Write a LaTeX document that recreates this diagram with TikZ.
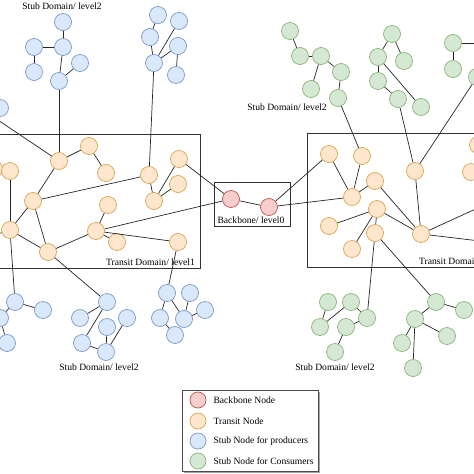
\documentclass[tikz,border=0pt]{standalone}
\usepackage{fontspec}
\setmainfont{Liberation Serif}
\usetikzlibrary{positioning}
\definecolor{bbfill}{HTML}{F8CECC}\definecolor{bbdraw}{HTML}{B85450}
\definecolor{tnfill}{HTML}{FFE6CC}\definecolor{tndraw}{HTML}{D6A653}
\definecolor{spfill}{HTML}{DAE8FC}\definecolor{spdraw}{HTML}{7A9AC8}
\definecolor{scfill}{HTML}{D5E8D4}\definecolor{scdraw}{HTML}{8AB576}

\begin{document}
\begin{tikzpicture}[x=1pt, y=-1pt, font=\fontsize{9.6}{11}\selectfont,
  nd/.style={circle, draw, line width=0.7pt, minimum size=17pt, inner sep=0pt},
  bb/.style={nd, fill=bbfill, draw=bbdraw},
  tn/.style={nd, fill=tnfill, draw=tndraw},
  sp/.style={nd, fill=spfill, draw=spdraw},
  sc/.style={nd, fill=scfill, draw=scdraw},
  lg/.style={minimum size=16pt},
  dom/.style={draw=black!80, line width=0.8pt},
  lbl/.style={inner sep=0pt},
  s/.style={draw=black!85, line width=0.7pt}]
\clip (0,0) rectangle (474,474);
% Domain boxes.
\draw[dom] (-5,134) rectangle (200,268);
\draw[dom] (214,182) rectangle (290,226);
\draw[dom] (307,133) rectangle (480,267);
\node[lbl] (lstub1) at (62,6) {Stub Domain/ level2};
\node[lbl] (lstub2) at (287,107) {Stub Domain/ level2};
\node[lbl] (lstub3) at (99,367) {Stub Domain/ level2};
\node[lbl] (lstub4) at (335,367) {Stub Domain/ level2};
\node[lbl, anchor=east] (ltr1) at (195,262) {Transit Domain/ level1};
\node[lbl, anchor=west] (ltr2) at (419,261) {Transit Domain/ level1};
\node[lbl] (lbb) at (251,220) {Backbone/ level0};
% Off-picture ends.
\coordinate (w1) at (-20,108); \coordinate (w2) at (-15,238);
\coordinate (w3) at (480,207); \coordinate (w4) at (480,241);
\coordinate (w5) at (480,43);
% Producers (top).
\node[sp] (b1) at (63,22) {}; \node[sp] (b2) at (63,47) {};
\node[sp] (b3) at (34,47) {}; \node[sp] (b4) at (34,72) {};
\node[sp] (b5) at (80,63) {}; \node[sp] (b6) at (59,81) {};
\node[sp] (b7) at (0,108) {};
\node[sp] (c1) at (158,15) {}; \node[sp] (c2) at (179,21) {};
\node[sp] (c3) at (150,37) {}; \node[sp] (c4) at (178,46) {};
\node[sp] (c5) at (154,63) {}; \node[sp] (c6) at (176,75) {};
% Transit domain (left).
\node[tn] (t0) at (-6,169) {}; \node[tn] (t1) at (59,161) {};
\node[tn] (t2) at (89,146) {}; \node[tn] (t3) at (106,173) {};
\node[tn] (t4) at (10,171) {}; \node[tn] (t5) at (33,201) {};
\node[tn] (t6) at (10,230) {}; \node[tn] (t7) at (48,252) {};
\node[tn] (t8) at (108,205) {}; \node[tn] (t9) at (96,231) {};
\node[tn] (t10) at (117,242) {}; \node[tn] (t11) at (149,175) {};
\node[tn] (t12) at (154,201) {}; \node[tn] (t13) at (179,159) {};
\node[tn] (t14) at (178,184) {}; \node[tn] (t15) at (178,242) {};
% Backbone.
\node[bb] (bb1) at (231,199) {}; \node[bb] (bb2) at (269,207) {};
% Transit domain (right).
\node[tn] (r1) at (329,154) {}; \node[tn] (r2) at (362,156) {};
\node[tn] (r3) at (375,181) {}; \node[tn] (r4) at (415,171) {};
\node[tn] (r5) at (352,197) {}; \node[tn] (r6) at (377,209) {};
\node[tn] (r7) at (329,226) {}; \node[tn] (r8) at (375,233) {};
\node[tn] (r9) at (352,249) {}; \node[tn] (r10) at (421,234) {};
\node[tn] (r11) at (478,145) {}; \node[tn] (r12) at (471,172) {};
% Consumers (top).
\node[sc] (ga1) at (290,31) {}; \node[sc] (ga2) at (300,56) {};
\node[sc] (ga3) at (321,56) {}; \node[sc] (ga4) at (341,72) {};
\node[sc] (ga5) at (311,89) {}; \node[sc] (ga6) at (338,98) {};
\node[sc] (gb1) at (392,34) {}; \node[sc] (gb2) at (378,57) {};
\node[sc] (gb3) at (404,61) {}; \node[sc] (gb4) at (378,81) {};
\node[sc] (gb5) at (398,99) {}; \node[sc] (gb6) at (421,107) {};
\node[sc] (gc1) at (453,43) {}; \node[sc] (gc2) at (453,69) {};
\node[sc] (gc3) at (477,77) {};
% Producers (bottom).
\node[sp] (d1) at (15,302) {}; \node[sp] (d2) at (43,310) {};
\node[sp] (d3) at (0,318) {}; \node[sp] (d4) at (7,343) {};
\node[sp] (e1) at (107,302) {}; \node[sp] (e2) at (80,318) {};
\node[sp] (e3) at (127,318) {}; \node[sp] (e4) at (107,327) {};
\node[sp] (e5) at (82,343) {}; \node[sp] (e6) at (106,352) {};
\node[sp] (f1) at (167,293) {}; \node[sp] (f2) at (190,293) {};
\node[sp] (f3) at (160,318) {}; \node[sp] (f4) at (184,319) {};
\node[sp] (f5) at (205,310) {}; \node[sp] (f6) at (175,335) {};
% Consumers (bottom).
\node[sc] (h1) at (328,302) {}; \node[sc] (h2) at (351,302) {};
\node[sc] (h3) at (320,327) {}; \node[sc] (h4) at (346,327) {};
\node[sc] (h5) at (367,318) {}; \node[sc] (h6) at (335,352) {};
\node[sc] (m1) at (436,302) {}; \node[sc] (m2) at (464,310) {};
\node[sc] (m3) at (415,319) {}; \node[sc] (m4) at (447,336) {};
\node[sc] (m5) at (402,343) {}; \node[sc] (m6) at (413,368) {};
% Links.
\draw[s] (b1)--(b2); \draw[s] (b3)--(b2); \draw[s] (b3)--(b4);
\draw[s] (b2)--(b6); \draw[s] (b6)--(b5); \draw[s] (b6)--(t1); \draw[s] (w1)--(t1);
\draw[s] (c1)--(c3); \draw[s] (c3)--(c5); \draw[s] (c5)--(c2);
\draw[s] (c5)--(c4); \draw[s] (c4)--(c6); \draw[s] (c5)--(t11);
\draw[s] (t1)--(t2); \draw[s] (t2)--(t3); \draw[s] (t1)--(t5); \draw[s] (t5)--(t11);
\draw[s] (t5)--(t6); \draw[s] (t5)--(t7); \draw[s] (t4)--(t6); \draw[s] (t6)--(t7);
\draw[s] (t6)--(d1); \draw[s] (t6)--(w2); \draw[s] (t7)--(t9); \draw[s] (t9)--(t8);
\draw[s] (t9)--(t10); \draw[s] (t9)--(t15); \draw[s] (t11)--(t12);
\draw[s] (t12)--(t13); \draw[s] (t12)--(t14); \draw[s] (t7)--(e1); \draw[s] (t15)--(f1);
\draw[s] (t9)--(bb1); \draw[s] (t13)--(bb1); \draw[s] (bb1)--(bb2);
\draw[s] (bb2)--(r1); \draw[s] (bb2)--(r5);
\draw[s] (r1)--(r5); \draw[s] (r2)--(r5); \draw[s] (r3)--(r5); \draw[s] (r3)--(r10);
\draw[s] (r6)--(r10); \draw[s] (r6)--(r7); \draw[s] (r6)--(r9); \draw[s] (r6)--(r8);
\draw[s] (r8)--(h5); \draw[s] (r8)--(m1); \draw[s] (r4)--(r10); \draw[s] (r4)--(gb5);
\draw[s] (r4)--(gc3); \draw[s] (r10)--(w3); \draw[s] (r10)--(w4); \draw[s] (r2)--(ga6);
\draw[s] (ga1)--(ga2); \draw[s] (ga2)--(ga3); \draw[s] (ga3)--(ga5);
\draw[s] (ga3)--(ga4); \draw[s] (ga4)--(ga6);
\draw[s] (gb1)--(gb2); \draw[s] (gb1)--(gb3); \draw[s] (gb2)--(gb4);
\draw[s] (gb2)--(gb6); \draw[s] (gb4)--(gb5);
\draw[s] (gc1)--(gc2); \draw[s] (gc1)--(w5);
\draw[s] (d1)--(d2); \draw[s] (d1)--(d3); \draw[s] (d3)--(d4);
\draw[s] (e1)--(e2); \draw[s] (e1)--(e5); \draw[s] (e5)--(e6);
\draw[s] (e4)--(e6); \draw[s] (e3)--(e6);
\draw[s] (f1)--(f3); \draw[s] (f1)--(f4); \draw[s] (f2)--(f4);
\draw[s] (f4)--(f5); \draw[s] (f3)--(f6);
\draw[s] (h1)--(h3); \draw[s] (h3)--(h2); \draw[s] (h2)--(h5);
\draw[s] (h5)--(h4); \draw[s] (h4)--(h6);
\draw[s] (m1)--(m2); \draw[s] (m1)--(m3); \draw[s] (m3)--(m4);
\draw[s] (m3)--(m5); \draw[s] (m3)--(m6);
% Legend.
\fill[black!35] (184,392) rectangle (320,473);
\draw[fill=white, draw=black!70, line width=0.6pt] (182,390) rectangle (318,471);
\node[bb, lg] (lg1) at (198,400) {};
\node[tn, lg] (lg2) at (198,421) {};
\node[sp, lg] (lg3) at (198,441) {};
\node[sc, lg] (lg4) at (198,461) {};
\node[lbl, right=7pt of lg1] {Backbone Node};
\node[lbl, right=7pt of lg2] {Transit Node};
\node[lbl, right=7pt of lg3] {Stub Node for producers};
\node[lbl, right=7pt of lg4] {Stub Node for Consumers};
\end{tikzpicture}
\end{document}
